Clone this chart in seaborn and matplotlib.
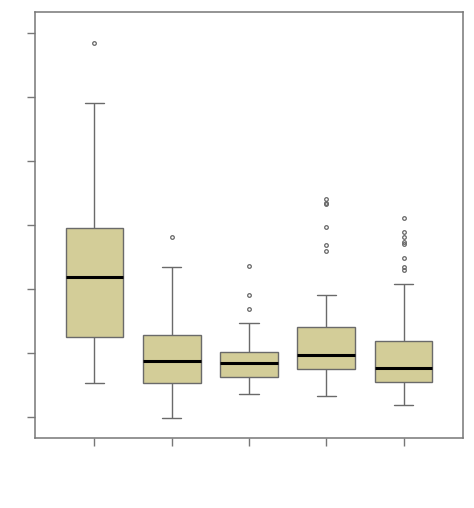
import numpy as np
import pandas as pd
import matplotlib
matplotlib.use("Agg")
import matplotlib.pyplot as plt
import seaborn as sns

# ---- data (y in tick units, ticks at 0..6) ----
groups = ["A", "B", "C", "D", "E"]
whisker_low = [0.53, -0.02, 0.36, 0.32, 0.19]
q1 = [1.25, 0.53, 0.63, 0.75, 0.55]
median = [2.19, 0.87, 0.84, 0.97, 0.76]
q3 = [2.95, 1.28, 1.01, 1.40, 1.18]
whisker_high = [4.91, 2.35, 1.47, 1.91, 2.08]
outliers_A = [5.85]
outliers_B = [2.82]
outliers_C = [1.69, 1.91, 2.36]
outliers_D = [2.60, 2.68, 2.97, 3.33, 3.35, 3.41]
outliers_E = [2.30, 2.35, 2.48, 2.71, 2.74, 2.81, 2.89, 3.11]
outliers = [outliers_A, outliers_B, outliers_C, outliers_D, outliers_E]
y_ticks = [0, 1, 2, 3, 4, 5, 6]

# Build samples whose box statistics equal the values read above
rows = []
for i, g in enumerate(groups):
    summary = [whisker_low[i], q1[i], median[i], q3[i], whisker_high[i]]
    vals = list(np.repeat(summary, 50)) + list(outliers[i])
    rows += [(g, v) for v in vals]
df = pd.DataFrame(rows, columns=["group", "value"])

sns.set_style("white")
fig = plt.figure(figsize=(4.74, 5.08), dpi=100)
ax = fig.add_axes([35 / 474, 1 - 438 / 508, (463 - 35) / 474, (438 - 12) / 508])

edge = "#6a6a6a"
kw = dict(
    data=df, x="group", y="value", order=groups, ax=ax,
    color="#d3cd98", width=0.75, linewidth=1.0, linecolor=edge,
    saturation=1, whis=1.5, fliersize=2.6,
    boxprops=dict(edgecolor=edge, facecolor="#d3cd98", linewidth=1.0),
    whiskerprops=dict(color=edge, linewidth=1.0),
    capprops=dict(color=edge, linewidth=1.0),
    medianprops=dict(color="black", linewidth=2.2),
    flierprops=dict(marker="o", markerfacecolor="none",
                    markeredgecolor="#666666", markersize=2.6,
                    markeredgewidth=0.9),
)
try:
    sns.boxplot(capwidths=0.25, **kw)
except TypeError:
    ax.cla()
    sns.boxplot(**kw)

ax.set_xlim(-0.77, 4.77)
ax.set_ylim(-0.33, 6.33)
ax.set_yticks(y_ticks)
ax.set_yticklabels([])
ax.set_xticks(range(len(groups)))
ax.set_xticklabels([])
ax.set_xlabel("")
ax.set_ylabel("")
ax.tick_params(axis="both", direction="out", length=6, width=1.0,
               color="#777777", left=True, bottom=True)
for s in ax.spines.values():
    s.set_color("#777777")
    s.set_linewidth(1.1)
    s.set_visible(True)

fig.savefig("out.png", dpi=100)
